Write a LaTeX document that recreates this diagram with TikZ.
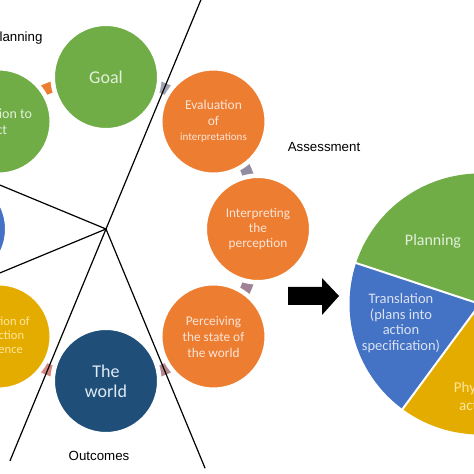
\documentclass[tikz,border=0pt]{standalone}
\usepackage{fontspec}
\setmainfont{Carlito}
\newfontfamily\arialf{Liberation Sans}
\usetikzlibrary{calc}
\definecolor{cgreen}{RGB}{112,173,71}
\definecolor{corange}{RGB}{237,125,49}
\definecolor{cblue}{RGB}{68,114,196}
\definecolor{cgold}{RGB}{229,172,0}
\definecolor{cnavy}{RGB}{31,78,121}
\definecolor{tgreen}{RGB}{226,240,217}
\definecolor{torange}{RGB}{251,229,214}
\definecolor{tblue}{RGB}{218,227,243}
\definecolor{tgold}{RGB}{255,230,153}
\definecolor{tnavy}{RGB}{222,235,247}
\definecolor{bandA}{RGB}{160,162,176}
\definecolor{bandB}{RGB}{146,140,162}
\definecolor{bandC}{RGB}{160,130,150}
\definecolor{bandD}{RGB}{180,136,140}
\definecolor{bandE}{RGB}{214,136,126}
\begin{document}
\begin{tikzpicture}[x=1pt,y=1pt,
  stage/.style={circle, minimum size=106.6pt, inner sep=0pt, draw=white, line width=4.6pt, align=center},
  band/.style={line width=11pt},
  bline/.style={draw=black, line width=1.2pt},
  lbl/.style={font=\arialf\fontsize{13.3}{15}\selectfont, inner sep=0pt},
  pielbl/.style={align=center, inner sep=0pt}]
\useasboundingbox (0,0) rectangle (474,474);
\clip (0,0) rectangle (474,474);
\coordinate (C) at (106,245);
% circular band behind the stages
\draw[band, corange] ($(C)+(92:152)$) arc[start angle=92, end angle=133, radius=152];
\draw[band, bandA] ($(C)+(47:152)$) arc[start angle=47, end angle=88, radius=152];
\draw[band, bandB] ($(C)+(2:152)$) arc[start angle=2, end angle=43, radius=152];
\draw[band, bandC] ($(C)+(-43:152)$) arc[start angle=-43, end angle=-2, radius=152];
\draw[band, bandD] ($(C)+(-88:152)$) arc[start angle=-88, end angle=-47, radius=152];
\draw[band, bandE] ($(C)+(-133:152)$) arc[start angle=-133, end angle=-92, radius=152];
% stages
\node[stage, fill=cgreen, text=tgreen, font=\fontsize{18}{21}\selectfont] (goal) at ($(C)+(90:152)$) {Goal};
\node[stage, fill=cgreen, text=tgreen, font=\fontsize{14}{16}\selectfont] (intent) at ($(C)+(135:152)$) {Intention to\\act};
\node[stage, fill=cblue] (spec) at ($(C)+(180:152)$) {};
\node[stage, fill=cgold, text=tgold, font=\fontsize{12.5}{14}\selectfont] (exec) at ($(C)+(225:152)$) {Execution of\\the action\\sequence};
\node[stage, fill=cnavy, text=tnavy, font=\fontsize{18}{20}\selectfont] (world) at ($(C)+(270:152)$) {The\\world};
\node[stage, fill=corange, text=torange, font=\fontsize{13.3}{16}\selectfont] (perc) at ($(C)+(315:152)$) {Perceiving\\the state of\\the world};
\node[stage, fill=corange, text=torange, font=\fontsize{13.3}{15.2}\selectfont] (interp) at ($(C)+(0:152)$) {Interpreting\\the\\perception};
\node[stage, fill=corange, text=torange, font=\fontsize{13.5}{15.5}\selectfont] (eval) at ($(C)+(45:152)$) {Evaluation\\of\\{\fontsize{11}{15.5}\selectfont interpretations}};
% dividing lines
\coordinate (e1) at ($(C)+(67.5:260)$);
\coordinate (e2) at ($(C)+(157.5:260)$);
\coordinate (e3) at ($(C)+(202.5:260)$);
\coordinate (e4) at ($(C)+(247.5:251)$);
\coordinate (e5) at ($(C)+(292.5:259)$);
\draw[bline] (C) -- (e1);
\draw[bline] (C) -- (e2);
\draw[bline] (C) -- (e3);
\draw[bline] (C) -- (e4);
\draw[bline] (C) -- (e5);
% labels
\node[lbl] (lplan) at (16.6,436) {Planning};
\node[lbl] (lassess) at (324,327) {Assessment};
\node[lbl] (lout) at (99,18) {Outcomes};
% big arrow
\fill[black] (288,187) -- (322,187) -- (322,196) -- (339,178) -- (322,159) -- (322,169) -- (288,169) -- cycle;
% pie chart
\coordinate (P) at (480,170);
\fill[cgreen] (P) -- ++(161.7:130.5) arc[start angle=161.7, end angle=45, radius=130.5] -- cycle;
\fill[cblue] (P) -- ++(161.7:130.5) arc[start angle=161.7, end angle=233.6, radius=130.5] -- cycle;
\fill[cgold] (P) -- ++(233.6:130.5) arc[start angle=233.6, end angle=315, radius=130.5] -- cycle;
\draw[white, line width=2pt] (P) -- ++(161.7:131);
\draw[white, line width=2pt] (P) -- ++(233.6:131);
\node[pielbl, text=tgreen, font=\fontsize{16}{18}\selectfont] (pplan) at (433,233) {Planning};
\node[pielbl, text=tblue, font=\fontsize{14.5}{15.7}\selectfont] (ptrans) at (401,151) {Translation\\(plans into\\action\\specification)};
\node[pielbl, text=tgold, font=\fontsize{15}{18}\selectfont] (pphys) at (478,78) {Physical\\action};
\end{tikzpicture}
\end{document}
